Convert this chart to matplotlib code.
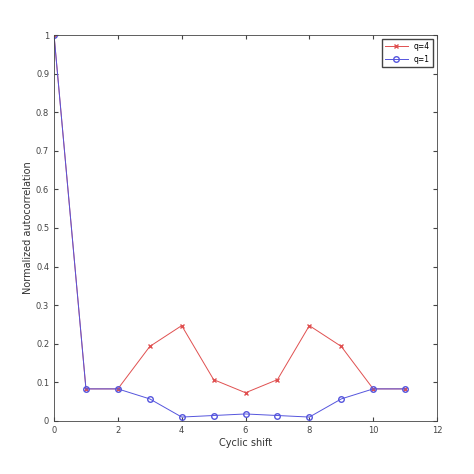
import matplotlib
matplotlib.use("Agg")
import matplotlib.pyplot as plt

shift = list(range(12))
q4 = [1, 0.083, 0.083, 0.193, 0.247, 0.107, 0.073, 0.107, 0.247, 0.193, 0.083, 0.083]
q1 = [1, 0.083, 0.083, 0.057, 0.010, 0.014, 0.018, 0.014, 0.010, 0.057, 0.083, 0.083]

fig = plt.figure(figsize=(4.74, 4.74), dpi=100)
ax = fig.add_axes([0.114, 0.112, 0.808, 0.814])
ax.plot(shift, q4, color="#e05050", marker="x", markersize=3, linewidth=0.7, label="q=4")
ax.plot(shift, q1, color="#5555dd", marker="o", markersize=4, markerfacecolor="none", linewidth=0.7, label="q=1")
ax.set_xlim(0, 12)
ax.set_ylim(0, 1)
ax.set_xticks(range(0, 13, 2))
ax.set_yticks([0, 0.1, 0.2, 0.3, 0.4, 0.5, 0.6, 0.7, 0.8, 0.9, 1])
ax.set_yticklabels(["0", "0.1", "0.2", "0.3", "0.4", "0.5", "0.6", "0.7", "0.8", "0.9", "1"])
ax.tick_params(labelsize=6, direction="in", length=3, colors="#444444", top=True, right=True)
for s in ax.spines.values():
    s.set_color("#444444"); s.set_linewidth(0.6)
ax.set_xlabel("Cyclic shift", fontsize=7, color="#333333", labelpad=2)
ax.set_ylabel("Normalized autocorrelation", fontsize=7, color="#333333", labelpad=2)
ax.legend(loc="upper right", fontsize=5.5, fancybox=False, edgecolor="#444444", framealpha=1, handlelength=3)
fig.savefig("out.png", dpi=100)
